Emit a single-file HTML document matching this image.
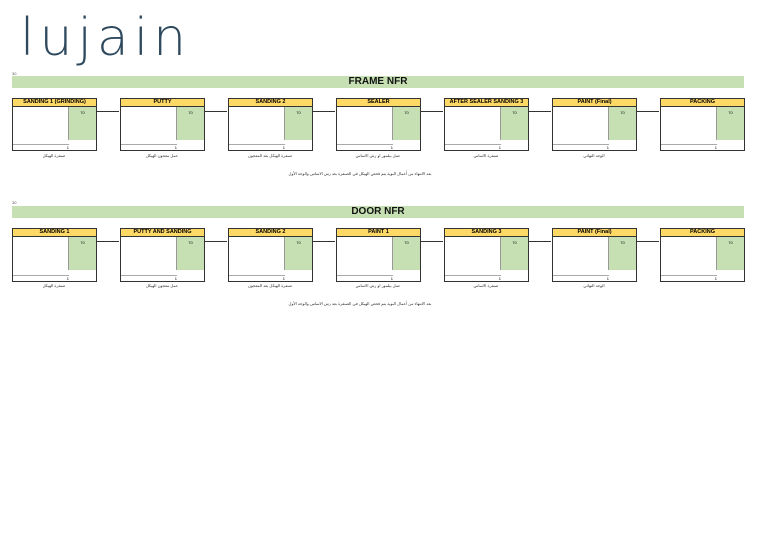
<!DOCTYPE html>
<html><head><meta charset="utf-8"><style>
body{margin:0;width:768px;height:543px;background:#fff;position:relative;overflow:hidden;font-family:"Liberation Sans",sans-serif}
.a{position:absolute}
.logo{left:20px;top:10px;font-size:52px;color:#2f4a5e;letter-spacing:5px;font-weight:300;font-family:"DejaVu Sans","Liberation Sans",sans-serif;line-height:1.1}
.ban{left:12px;width:732px;height:12px;background:#c6e0b4;font-weight:bold;font-size:10px;text-align:center;line-height:12px;color:#111}
.box{width:83px;border:1px solid #333;background:#fff}
.hd{height:7px;background:#ffd966;border-bottom:1px solid #333;font-size:5.5px;font-weight:bold;text-align:center;line-height:7px;white-space:nowrap;overflow:hidden}
.g{position:absolute;right:0;width:28px;top:8px;height:33px;background:#c6e0b4;border-left:1px solid #999;font-size:4px;text-align:center;padding-top:3px;box-sizing:border-box}
.bt{position:absolute;left:0;bottom:0;width:56px;height:5px;border-top:1px solid #aaa;font-size:4px;text-align:right}
.cap{font-size:4px;text-align:center;width:84px;font-family:"Liberation Sans","Noto Sans CJK SC",sans-serif;color:#333}
.ar{height:1px;background:#333;width:22px}
.sm{font-size:4px;color:#555}
</style></head><body>
<div class="a logo">lujain</div>
<div class="a sm" style="left:12px;top:71px">30</div>
<div class="a ban" style="top:76px">FRAME NFR</div>
<div class="a sm" style="left:12px;top:200px">30</div>
<div class="a ban" style="top:206px">DOOR NFR</div>

<div class="a box" style="left:12px;top:98px;height:51px"><div class="hd">SANDING 1 (GRINDING)</div><div class="g">70</div><div class="bt">1</div></div>
<div class="a box" style="left:120px;top:98px;height:51px"><div class="hd">PUTTY</div><div class="g">70</div><div class="bt">1</div></div>
<div class="a box" style="left:228px;top:98px;height:51px"><div class="hd">SANDING 2</div><div class="g">70</div><div class="bt">1</div></div>
<div class="a box" style="left:336px;top:98px;height:51px"><div class="hd">SEALER</div><div class="g">70</div><div class="bt">1</div></div>
<div class="a box" style="left:444px;top:98px;height:51px"><div class="hd">AFTER SEALER SANDING 3</div><div class="g">70</div><div class="bt">1</div></div>
<div class="a box" style="left:552px;top:98px;height:51px"><div class="hd">PAINT (Final)</div><div class="g">70</div><div class="bt">1</div></div>
<div class="a box" style="left:660px;top:98px;height:51px"><div class="hd">PACKING</div><div class="g">70</div><div class="bt">1</div></div>
<div class="a ar" style="left:97px;top:111px"></div><div class="a ar" style="left:205px;top:111px"></div><div class="a ar" style="left:313px;top:111px"></div><div class="a ar" style="left:421px;top:111px"></div><div class="a ar" style="left:529px;top:111px"></div><div class="a ar" style="left:637px;top:111px"></div>
<div class="a cap" style="left:12px;top:153px">صنفرة الهيكل</div>
<div class="a cap" style="left:120px;top:153px">عمل معجون الهيكل</div>
<div class="a cap" style="left:228px;top:153px">صنفرة الهيكل بعد المعجون</div>
<div class="a cap" style="left:336px;top:153px">عمل بيلمور او رش الاساس</div>
<div class="a cap" style="left:444px;top:153px">صنفرة الاساس</div>
<div class="a cap" style="left:552px;top:153px">الوجه النهائي</div>
<div class="a cap" style="left:250px;top:171px;width:220px">بعد الانتهاء من أعمال البوية يتم فحص الهيكل في الصنفرة بعد رش الاساس والوجه الأول</div>

<div class="a box" style="left:12px;top:228px;height:52px"><div class="hd">SANDING 1</div><div class="g">70</div><div class="bt">1</div></div>
<div class="a box" style="left:120px;top:228px;height:52px"><div class="hd">PUTTY AND SANDING</div><div class="g">70</div><div class="bt">1</div></div>
<div class="a box" style="left:228px;top:228px;height:52px"><div class="hd">SANDING 2</div><div class="g">70</div><div class="bt">1</div></div>
<div class="a box" style="left:336px;top:228px;height:52px"><div class="hd">PAINT 1</div><div class="g">70</div><div class="bt">1</div></div>
<div class="a box" style="left:444px;top:228px;height:52px"><div class="hd">SANDING 3</div><div class="g">70</div><div class="bt">1</div></div>
<div class="a box" style="left:552px;top:228px;height:52px"><div class="hd">PAINT (Final)</div><div class="g">70</div><div class="bt">1</div></div>
<div class="a box" style="left:660px;top:228px;height:52px"><div class="hd">PACKING</div><div class="g">70</div><div class="bt">1</div></div>
<div class="a ar" style="left:97px;top:241px"></div><div class="a ar" style="left:205px;top:241px"></div><div class="a ar" style="left:313px;top:241px"></div><div class="a ar" style="left:421px;top:241px"></div><div class="a ar" style="left:529px;top:241px"></div><div class="a ar" style="left:637px;top:241px"></div>
<div class="a cap" style="left:12px;top:283px">صنفرة الهيكل</div>
<div class="a cap" style="left:120px;top:283px">عمل معجون الهيكل</div>
<div class="a cap" style="left:228px;top:283px">صنفرة الهيكل بعد المعجون</div>
<div class="a cap" style="left:336px;top:283px">عمل بيلمور او رش الاساس</div>
<div class="a cap" style="left:444px;top:283px">صنفرة الاساس</div>
<div class="a cap" style="left:552px;top:283px">الوجه النهائي</div>
<div class="a cap" style="left:250px;top:301px;width:220px">بعد الانتهاء من أعمال البوية يتم فحص الهيكل في الصنفرة بعد رش الاساس والوجه الأول</div>
</body></html>
